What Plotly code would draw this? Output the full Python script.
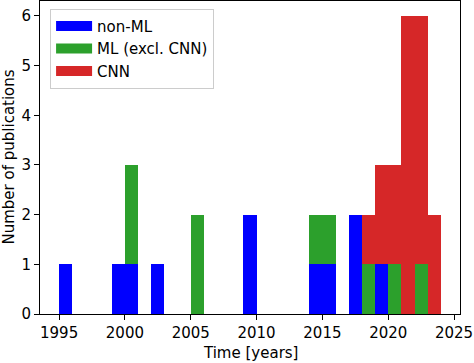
import plotly.graph_objects as go

years = list(range(1995, 2024))
non_ml = [1, 0, 0, 0, 1, 1, 0, 1, 0, 0, 0, 0, 0, 0, 2, 0, 0, 0, 0, 1, 1, 0, 2, 0, 1, 0, 0, 0, 0]
ml_excl_cnn = [0, 0, 0, 0, 0, 2, 0, 0, 0, 0, 2, 0, 0, 0, 0, 0, 0, 0, 0, 1, 1, 0, 0, 1, 0, 1, 0, 1, 0]
cnn = [0, 0, 0, 0, 0, 0, 0, 0, 0, 0, 0, 0, 0, 0, 0, 0, 0, 0, 0, 0, 0, 0, 0, 1, 2, 2, 6, 5, 2]

series = [("non-ML", non_ml, "#0000ff"),
          ("ML (excl. CNN)", ml_excl_cnn, "#2ca02c"),
          ("CNN", cnn, "#d62728")]

centers = [y + 0.5 for y in years]
FONT = "DejaVu Sans"

fig = go.Figure()
for name, vals, col in series:
    fig.add_trace(go.Bar(x=centers, y=vals, width=1.0, name=name,
                         marker=dict(color=col, line=dict(width=0)),
                         showlegend=False, hoverinfo="skip"))
for name, vals, col in series:
    fig.add_trace(go.Scatter(x=[None], y=[None], mode="lines", name=name,
                             line=dict(color=col, width=10), showlegend=True))

fig.update_layout(
    barmode="stack",
    bargap=0,
    width=474, height=363,
    margin=dict(l=40, r=14, t=1, b=49, autoexpand=False),
    plot_bgcolor="white", paper_bgcolor="white",
    font=dict(family=FONT, size=15, color="black"),
    legend=dict(x=0.024, y=0.975, xanchor="left", yanchor="top",
                traceorder="normal", itemwidth=36,
                bgcolor="rgba(255,255,255,0.8)", bordercolor="#cccccc", borderwidth=1,
                font=dict(family=FONT, size=15, color="black"),
                tracegroupgap=0),
    xaxis=dict(range=[1993.55, 2025.45], tickvals=[1995, 2000, 2005, 2010, 2015, 2020, 2025],
               ticks="outside", ticklen=5, tickwidth=1, tickcolor="black",
               showline=True, linecolor="black", linewidth=1, mirror=True,
               showgrid=False, zeroline=False, automargin=False),
    yaxis=dict(range=[0, 6.3], tickvals=[0, 1, 2, 3, 4, 5, 6],
               ticks="outside", ticklen=5, tickwidth=1, tickcolor="black",
               showline=True, linecolor="black", linewidth=1, mirror=True,
               showgrid=False, zeroline=False, automargin=False),
    annotations=[
        dict(text="Time [years]", xref="paper", yref="paper", x=0.5, y=0,
             xanchor="center", yanchor="middle", yshift=-39, showarrow=False,
             font=dict(family=FONT, size=15, color="black")),
        dict(text="Number of publications", xref="paper", yref="paper", x=0, y=0.5,
             xanchor="center", yanchor="middle", xshift=-32, textangle=-90, showarrow=False,
             font=dict(family=FONT, size=15, color="black")),
    ],
)

fig.write_html("out.html", config={"displayModeBar": False},
               post_script="document.body.style.margin='0';document.body.style.padding='0';")
